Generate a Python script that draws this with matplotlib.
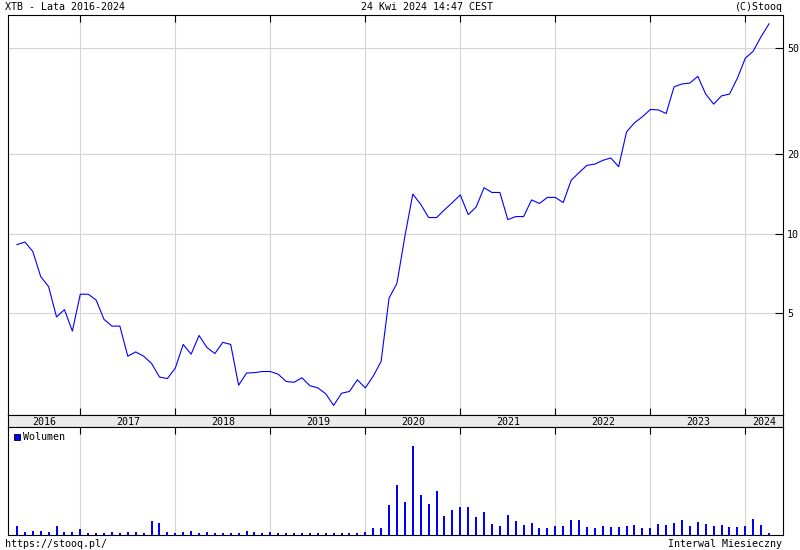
import matplotlib
matplotlib.use('Agg')
import matplotlib.pyplot as plt
import numpy as np
import pandas as pd
from matplotlib.patches import Rectangle
from matplotlib.ticker import NullLocator

# ---------------- data ----------------
months = pd.period_range('2016-05', '2024-04', freq='M')
close = [9.09, 9.30, 8.57, 6.89, 6.31, 4.85, 5.17, 4.29,
         5.91, 5.91, 5.62, 4.75, 4.48, 4.48, 3.45, 3.58, 3.45, 3.24, 2.88, 2.84,
         3.11, 3.82, 3.51, 4.13, 3.72, 3.53, 3.89, 3.82, 2.68, 2.98, 2.99, 3.02,
         3.02, 2.95, 2.77, 2.75, 2.86, 2.67, 2.62, 2.49, 2.25, 2.50, 2.54, 2.81,
         2.62, 2.90, 3.30, 5.71, 6.50, 9.77, 14.1, 12.9, 11.5, 11.5, 12.3, 13.1,
         14.0, 11.8, 12.6, 14.9, 14.3, 14.3, 11.3, 11.6, 11.6, 13.4, 13.0, 13.7,
         13.7, 13.1, 15.9, 17.0, 18.1, 18.3, 18.9, 19.3, 17.9, 24.2, 26.2, 27.6,
         29.4, 29.3, 28.4, 35.8, 36.7, 37.0, 39.2, 33.6, 30.8, 33.1, 33.6, 38.6,
         45.9, 48.8, 55.4, 61.9]
volume = [9, 3, 4.3, 4.3, 3, 9, 3, 3,
          6, 2.3, 2.3, 2.3, 3, 2.3, 3, 3, 2.3, 14.3, 12.3, 3,
          2.3, 3, 4.3, 2.3, 3, 2.3, 2.3, 2.3, 2.3, 4.3, 3, 2.3,
          3, 2.3, 2.3, 2.3, 2.3, 2.3, 2.3, 2.3, 2.3, 2.3, 2.3, 2.3,
          3.3, 7.3, 7.3, 30, 50, 33.3, 89.3, 40, 31, 44, 19, 25,
          28, 28, 18, 23, 11, 9, 20, 14.3, 10, 12, 7, 7,
          9, 9, 15, 15, 8, 7, 9, 8, 8, 9, 10, 7,
          7, 11, 10, 12, 15, 9, 13, 11, 9, 10, 8, 8,
          9, 16, 10, 1.7]
year_labels = ['2016', '2017', '2018', '2019', '2020', '2021', '2022', '2023', '2024']
price_ticks = [5, 10, 20, 50]

# month index counted from Jan 2016
x = np.array([(p.year - 2016) * 12 + p.month - 1 for p in months])

# ---------------- layout ----------------
W, H = 800, 550
FONT = dict(family='DejaVu Sans Mono', size=7.2)
plt.rcParams['font.family'] = 'DejaVu Sans Mono'

fig = plt.figure(figsize=(8, 5.5), dpi=100)


def rect(l, t, r, b):
    return [l / W, 1 - b / H, (r - l) / W, (b - t) / H]


XMIN, XMAX = 2.87, 100.76
year_starts = [(int(y) - 2016) * 12 for y in year_labels[1:]]
GRID = '#d4d4d4'

ax = fig.add_axes(rect(8, 15, 783, 415))
band = fig.add_axes(rect(8, 415, 783, 427))
axv = fig.add_axes(rect(8, 427, 783, 535))

for a in (ax, band, axv):
    a.set_xlim(XMIN, XMAX)
    for s in a.spines.values():
        s.set_linewidth(0.8)
        s.set_color('black')

# ---- price panel ----
ax.set_yscale('log')
ax.set_ylim(2.07, 66.8)
ax.yaxis.set_minor_locator(NullLocator())
ax.yaxis.tick_right()
ax.set_yticks(price_ticks)
ax.set_yticklabels([str(t) for t in price_ticks], fontsize=7.2)
ax.set_xticks(year_starts)
ax.tick_params(axis='x', direction='in', top=True, bottom=True, length=5,
               width=0.8, labelbottom=False)
ax.tick_params(axis='y', direction='in', right=True, left=False, length=6,
               width=0.8, pad=3)
for yt in price_ticks:
    ax.axhline(yt, color=GRID, lw=0.8, zorder=0)
for xs in year_starts:
    ax.axvline(xs, color=GRID, lw=0.8, zorder=0)
ax.plot(x, close, color='#0000ff', lw=0.8, zorder=3)

# ---- date band ----
band.set_facecolor('#ebebeb')
band.set_ylim(0, 1)
band.set_xticks([])
band.set_yticks([])
for lab in year_labels:
    y0 = (int(lab) - 2016) * 12
    lo, hi = max(y0, XMIN), min(y0 + 12, XMAX)
    band.text((lo + hi) / 2, 0.45, lab, ha='center', va='center', **FONT)

# ---- volume panel ----
axv.set_ylim(0, 108)
axv.set_yticks([])
axv.set_xticks(year_starts)
axv.tick_params(axis='x', direction='in', top=True, bottom=False, length=5,
                width=0.8, labelbottom=False)
for xs in year_starts:
    axv.axvline(xs, color=GRID, lw=0.8, zorder=0)
axv.vlines(x, 0, volume, colors='#0000ff', linewidth=1.1, antialiased=False,
           zorder=3)

# legend square + label
fig.add_artist(Rectangle((14 / W, 1 - 440 / H), 6 / W, 6 / H,
                         transform=fig.transFigure, facecolor='#0000ff',
                         edgecolor='black', lw=0.6))
fig.text(23 / W, 1 - 437.5 / H, 'Wolumen', ha='left', va='center', **FONT)

# ---- header / footer ----
fig.text(5 / W, 1 - 7 / H, 'XTB - Lata 2016-2024', ha='left', va='center', **FONT)
fig.text(427 / W, 1 - 7 / H, '24 Kwi 2024 14:47 CEST', ha='center', va='center', **FONT)
fig.text(783 / W, 1 - 7 / H, '(C)Stooq', ha='right', va='center', **FONT)
fig.text(5 / W, 1 - 544 / H, 'https://stooq.pl/', ha='left', va='center', **FONT)
fig.text(782 / W, 1 - 544 / H, 'Interwal Miesieczny', ha='right', va='center', **FONT)

fig.savefig('out.png', dpi=100)
